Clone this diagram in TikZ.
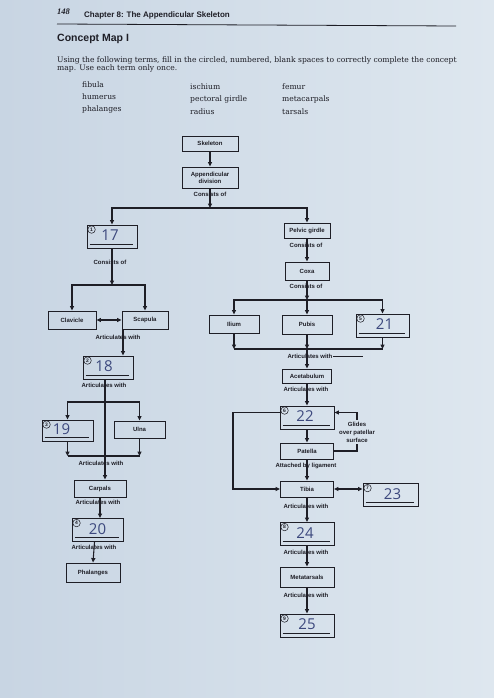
\documentclass[tikz,border=0pt]{standalone}
\usepackage{fontspec}
\setmainfont{Liberation Serif}
\setsansfont{Liberation Sans}
\newfontfamily\handfont{Open Sans}
\newfontfamily\bodyfont{DejaVu Serif}
\usetikzlibrary{arrows.meta}
\definecolor{pagebg}{RGB}{222,231,239}
\definecolor{pageleft}{RGB}{200,213,227}
\definecolor{ink}{RGB}{30,30,38}
\definecolor{pen}{RGB}{60,72,125}
\tikzset{
  bx/.style={draw=ink, line width=0.9pt, inner sep=0pt, align=center, text=ink,
    font=\sffamily\bfseries\fontsize{6}{7}\selectfont},
  lbl/.style={inner sep=0.5pt, text=ink, align=center,
    font=\sffamily\bfseries\fontsize{6}{8}\selectfont},
  arr/.style={draw=ink, line width=1.1pt, -{Triangle[length=4.5pt,width=4pt]}},
  darr/.style={draw=ink, line width=1.1pt, {Triangle[length=4.5pt,width=4pt]}-{Triangle[length=4.5pt,width=4pt]}},
  ln/.style={draw=ink, line width=1.1pt},
  cnum/.style={circle, draw=ink, line width=0.5pt, inner sep=0pt, minimum size=7.5pt, text=ink,
    font=\sffamily\bfseries\fontsize{5}{5}\selectfont},
  hand/.style={text=pen, inner sep=0pt, font=\handfont\fontsize{15}{15}\selectfont},
  term/.style={anchor=base west, inner sep=0pt, text=ink, font=\bodyfont\fontsize{7.6}{9}\selectfont}
}
% #1 name, #2 centre, #3 width, #4 circled number, #5 handwritten text, #6 x offset of handwriting
\newcommand{\blankbox}[6]{%
  \node[bx, minimum width=#3pt, minimum height=23pt] (#1) at (#2) {};
  \draw[ink, line width=0.6pt] ([xshift=3pt,yshift=4.5pt]#1.south west) -- ([xshift=-4pt,yshift=4.5pt]#1.south east);
  \node[cnum] (#1n) at ([xshift=5pt,yshift=-5pt]#1.north west) {#4};
  \node[hand] (#1h) at ([xshift=#6pt,yshift=1pt]#1.center) {#5};
}
\begin{document}
\begin{tikzpicture}[x=1pt,y=-1pt,color=ink]
\path[left color=pageleft, right color=pagebg] (0,0) rectangle (494,698);
\useasboundingbox (0,0) rectangle (494,698);

% header
\node[anchor=base west, inner sep=0pt, font=\bfseries\itshape\fontsize{8.5}{10}\selectfont] (pg) at (57,15) {148};
\node[anchor=base west, inner sep=0pt, font=\sffamily\bfseries\fontsize{8}{9}\selectfont] (chap) at (84,17.5) {Chapter 8: The Appendicular Skeleton};
\draw[ink, line width=0.8pt] (57,24) -- (456,26);
\node[anchor=base west, inner sep=0pt, font=\sffamily\bfseries\fontsize{10.5}{12}\selectfont] (title) at (57,42) {Concept Map I};
\node[term] (in1) at (57,62.5) {Using the following terms, fill in the circled, numbered, blank spaces to correctly complete the concept};
\node[term] (in2) at (57,71) {map. Use each term only once.};
\node[term] (t1) at (82,88) {fibula};
\node[term] (t2) at (82,100) {humerus};
\node[term] (t3) at (82,112) {phalanges};
\node[term] (t4) at (190,90) {ischium};
\node[term] (t5) at (190,102) {pectoral girdle};
\node[term] (t6) at (190,114) {radius};
\node[term] (t7) at (282,90) {femur};
\node[term] (t8) at (282,102) {metacarpals};
\node[term] (t9) at (282,114) {tarsals};

% top
\node[bx, minimum width=56pt, minimum height=15pt] (skel) at (210,143.5) {Skeleton};
\node[bx, minimum width=56pt, minimum height=21pt] (app) at (210,177.5) {Appendicular\\division};
\node[lbl] (c1) at (210,194) {Consists of};
\coordinate (j1) at (210,208);
\draw[arr] (skel.south) -- (app.north);
\draw[arr] (app.south) -- (j1);

% left branch
\blankbox{b17}{112,236.5}{50}{1}{17}{-2}
\draw[arr] (j1) -| (b17.north);
\node[lbl] (c2) at (110,262) {Consists of};
\coordinate (j2) at (112,285);
\draw[arr] (b17.south) -- (j2);
\node[bx, minimum width=48pt, minimum height=18pt] (clav) at (72,320) {Clavicle};
\node[bx, minimum width=46pt, minimum height=18pt] (scap) at (145,320) {Scapula};
\draw[arr] (j2) -| (clav.north);
\draw[arr] (j2) -| (scap.north);
\draw[darr] (clav.east) -- (scap.west);
\node[lbl] (a1) at (118,337) {Articulates with};
\blankbox{b18}{108,367.5}{50}{2}{18}{-4}
\draw[arr] ([xshift=-22pt]scap.south) -- ([xshift=15pt]b18.north);
\node[lbl] (a2) at (104,385) {Articulates with};
\node[bx, minimum width=51pt, minimum height=21pt] (b19) at (67.5,430.5) {};
\draw[ink, line width=0.6pt] ([xshift=3pt,yshift=4.5pt]b19.south west) -- ([xshift=-4pt,yshift=4.5pt]b19.south east);
\node[cnum] (b19n) at ([xshift=5pt,yshift=-5pt]b19.north west) {3};
\node[hand] (b19h) at ([xshift=-6pt,yshift=1pt]b19.center) {19};
\node[bx, minimum width=51pt, minimum height=17pt] (ulna) at (139.5,429.5) {Ulna};
\node[bx, minimum width=52pt, minimum height=17pt] (carp) at (100,488.5) {Carpals};
\coordinate (j3) at (105,402);
\coordinate (j4) at (105,456);
\draw[arr] ([xshift=-3pt]b18.south) -- ([xshift=5pt]carp.north);
\draw[arr] (j3) -| (b19.north);
\draw[arr] (j3) -| (ulna.north);
\draw[arr] (b19.south) -- (b19.south |- j4);
\draw[arr] (ulna.south) -- (ulna.south |- j4);
\draw[ln] (b19.south |- j4) -- (ulna.south |- j4);
\node[lbl] (a3) at (101,463) {Articulates with};
\node[lbl] (a4) at (98,502) {Articulates with};
\blankbox{b20}{97.5,530}{51}{4}{20}{0}
\draw[arr] (carp.south) -- (carp.south |- b20.north);
\node[lbl] (a5) at (94,547) {Articulates with};
\node[bx, minimum width=54pt, minimum height=19pt] (phal) at (93,572.5) {Phalanges};
\draw[arr] ([xshift=-3pt]b20.south) -- (phal.north);

% right branch
\node[bx, minimum width=46pt, minimum height=15pt] (pelv) at (307,230.5) {Pelvic girdle};
\draw[arr] (j1) -| (pelv.north);
\node[lbl] (c3) at (306,245) {Consists of};
\node[bx, minimum width=44pt, minimum height=18pt] (coxa) at (307,271) {Coxa};
\draw[arr] (pelv.south) -- (coxa.north);
\node[lbl] (c4) at (306,286) {Consists of};
\coordinate (j5) at (307,300);
\coordinate (j6) at (307,349);
\draw[arr] (coxa.south) -- (j5);
\node[bx, minimum width=50pt, minimum height=18pt] (ilium) at (234,324) {Ilium};
\node[bx, minimum width=50pt, minimum height=19pt] (pubis) at (307,324.5) {Pubis};
\blankbox{b21}{382.5,325.5}{53}{5}{21}{2}
\draw[arr] (j5) -| (ilium.north);
\draw[arr] (j5) -- (pubis.north);
\draw[arr] (j5) -| (b21.north);
\draw[arr] (ilium.south) -- (ilium.south |- j6);
\draw[arr] (pubis.south) -- (j6);
\draw[arr] (b21.south) -- (b21.south |- j6);
\draw[ln] (ilium.south |- j6) -- (b21.south |- j6);
\node[lbl] (a6) at (310,356) {Articulates with};
\draw[ink, line width=0.6pt] (a6.east) -- ++(30pt,0);
\node[bx, minimum width=49pt, minimum height=14pt] (acet) at (307,376) {Acetabulum};
\draw[arr] (j6) -- (acet.north);
\node[lbl] (a7) at (306,389) {Articulates with};
\blankbox{b22}{307,417.5}{54}{6}{22}{-2}
\draw[arr] (acet.south) -- (b22.north);
\node[bx, minimum width=53pt, minimum height=16pt] (pat) at (307,451) {Patella};
\draw[arr] (b22.south) -- (pat.north);
\node[lbl, inner sep=1.5pt] (glide) at (357,432) {Glides\\over patellar\\surface};
\draw[arr] (glide.north) |- ([yshift=5pt]b22.east);
\draw[ln] (pat.east) -| (glide.south);
\node[lbl] (att) at (306,466) {Attached by ligament};
\node[bx, minimum width=53pt, minimum height=16pt] (tib) at (307,489) {Tibia};
\draw[arr] (pat.south) -- (tib.north);
\coordinate (lp) at (233,489);
\draw[arr] ([yshift=5pt]b22.west) -| (lp) -- (tib.west);
\blankbox{b23}{390.5,495}{55}{7}{23}{2}
\draw[darr] (tib.east) -- (tib.east -| b23.west);
\node[lbl] (a8) at (306,506) {Articulates with};
\blankbox{b24}{307,534}{54}{8}{24}{-2}
\draw[arr] (tib.south) -- (b24.north);
\node[lbl] (a9) at (306,552) {Articulates with};
\node[bx, minimum width=54pt, minimum height=20pt] (meta) at (307,577) {Metatarsals};
\draw[arr] (b24.south) -- (meta.north);
\node[lbl] (a10) at (306,595) {Articulates with};
\blankbox{b25}{307,625.5}{54}{9}{25}{0}
\draw[arr] (meta.south) -- (b25.north);
\end{tikzpicture}
\end{document}
